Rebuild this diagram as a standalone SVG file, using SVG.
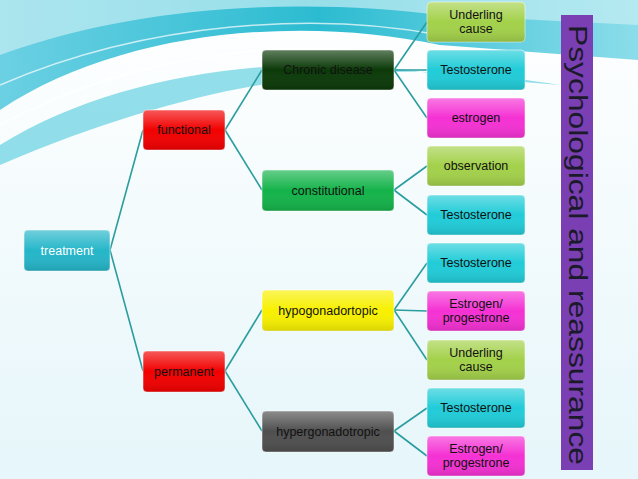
<svg xmlns="http://www.w3.org/2000/svg" width="638" height="479" viewBox="0 0 638 479">
<defs>
<linearGradient id="bg" x1="0" y1="0" x2="0" y2="1"><stop offset="0" stop-color="#ffffff"/><stop offset="1" stop-color="#e6f6fa"/></linearGradient>
<linearGradient id="sw" x1="0" y1="0" x2="1" y2="0"><stop offset="0" stop-color="#5ccbe0"/><stop offset="0.5" stop-color="#14b4cc"/><stop offset="1" stop-color="#7fd9e8"/></linearGradient>
<linearGradient id="gl" x1="0" y1="0" x2="0" y2="1"><stop offset="0" stop-color="#fff" stop-opacity="0.35"/><stop offset="0.5" stop-color="#fff" stop-opacity="0"/><stop offset="1" stop-color="#000" stop-opacity="0.12"/></linearGradient>
</defs>
<style>
.n rect.b{stroke:#ffffff;stroke-opacity:.5;stroke-width:1}
.n text{font-family:"Liberation Sans",Arial,sans-serif;font-size:12.5px;text-anchor:middle;fill:#111}
.c line{stroke:#2a9d9f;stroke-width:1.6}
</style>
<rect width="638" height="479" fill="url(#bg)"/>
<path d="M0 110 C120 30 300 15 440 45 L638 60 L638 0 L0 0 Z" fill="url(#sw)" opacity="0.9"/>
<path d="M0 145 C120 70 300 50 440 75 L560 85 C 420 62 250 58 0 165 Z" fill="#3cc4d8" opacity="0.55"/>
<path d="M0 55 C150 0 320 0 440 15 L638 25 L638 0 L0 0 Z" fill="#c6eef4" opacity="0.7"/>
<path d="M0 125 C140 50 300 35 430 60" fill="none" stroke="#fff" stroke-width="2" opacity="0.7"/>
<path d="M0 85 C150 20 320 12 440 35" fill="none" stroke="#fff" stroke-width="1.5" opacity="0.7"/>
<g class="c">
<line x1="110" y1="250" x2="143" y2="130"/><line x1="110" y1="250" x2="143" y2="371"/>
<line x1="225" y1="130" x2="262" y2="70"/><line x1="225" y1="130" x2="262" y2="190"/>
<line x1="225" y1="371" x2="262" y2="310"/><line x1="225" y1="371" x2="262" y2="431"/>
<line x1="394" y1="70" x2="427" y2="22"/><line x1="394" y1="70" x2="427" y2="70"/><line x1="394" y1="70" x2="427" y2="118"/>
<line x1="394" y1="190" x2="427" y2="166"/><line x1="394" y1="190" x2="427" y2="215"/>
<line x1="394" y1="310" x2="427" y2="263"/><line x1="394" y1="310" x2="427" y2="311"/><line x1="394" y1="310" x2="427" y2="360"/>
<line x1="394" y1="431" x2="427" y2="408"/><line x1="394" y1="431" x2="427" y2="456"/>
</g>
<g id="treatment" class="n"><rect class="b" x="24" y="230" width="86" height="41" rx="4" fill="#25b6c9"/><rect x="24" y="230" width="86" height="41" rx="4" fill="url(#gl)"/><text x="67" y="255" style="fill:#fff">treatment</text></g>
<g id="functional" class="n"><rect class="b" x="143" y="110" width="82" height="40" rx="4" fill="#f20000"/><rect x="143" y="110" width="82" height="40" rx="4" fill="url(#gl)"/><text x="184" y="134">functional</text></g>
<g id="permanent" class="n"><rect class="b" x="143" y="351" width="82" height="41" rx="4" fill="#f20000"/><rect x="143" y="351" width="82" height="41" rx="4" fill="url(#gl)"/><text x="184" y="376">permanent</text></g>
<g id="chronic" class="n"><rect class="b" x="262" y="50" width="132" height="40" rx="4" fill="#0b3a08"/><rect x="262" y="50" width="132" height="40" rx="4" fill="url(#gl)"/><text x="328" y="74">Chronic disease</text></g>
<g id="constitutional" class="n"><rect class="b" x="262" y="170" width="132" height="41" rx="4" fill="#14b34a"/><rect x="262" y="170" width="132" height="41" rx="4" fill="url(#gl)"/><text x="328" y="195">constitutional</text></g>
<g id="hypo" class="n"><rect class="b" x="262" y="290" width="132" height="41" rx="4" fill="#f7f000"/><rect x="262" y="290" width="132" height="41" rx="4" fill="url(#gl)"/><text x="328" y="315">hypogonadortopic</text></g>
<g id="hyper" class="n"><rect class="b" x="262" y="411" width="132" height="41" rx="4" fill="#4f4f4f"/><rect x="262" y="411" width="132" height="41" rx="4" fill="url(#gl)"/><text x="328" y="436">hypergonadotropic</text></g>
<g id="l1" class="n"><rect class="b" x="427" y="2" width="98" height="40" rx="4" fill="#a3d14a"/><rect x="427" y="2" width="98" height="40" rx="4" fill="url(#gl)"/><text x="476" y="19">Underling</text><text x="476" y="33">cause</text></g>
<g id="l2" class="n"><rect class="b" x="427" y="50" width="98" height="40" rx="4" fill="#20ccd8"/><rect x="427" y="50" width="98" height="40" rx="4" fill="url(#gl)"/><text x="476" y="74">Testosterone</text></g>
<g id="l3" class="n"><rect class="b" x="427" y="98" width="98" height="40" rx="4" fill="#f531d4"/><rect x="427" y="98" width="98" height="40" rx="4" fill="url(#gl)"/><text x="476" y="122">estrogen</text></g>
<g id="l4" class="n"><rect class="b" x="427" y="146" width="98" height="40" rx="4" fill="#a3d14a"/><rect x="427" y="146" width="98" height="40" rx="4" fill="url(#gl)"/><text x="476" y="170">observation</text></g>
<g id="l5" class="n"><rect class="b" x="427" y="195" width="98" height="40" rx="4" fill="#20ccd8"/><rect x="427" y="195" width="98" height="40" rx="4" fill="url(#gl)"/><text x="476" y="219">Testosterone</text></g>
<g id="l6" class="n"><rect class="b" x="427" y="243" width="98" height="40" rx="4" fill="#20ccd8"/><rect x="427" y="243" width="98" height="40" rx="4" fill="url(#gl)"/><text x="476" y="267">Testosterone</text></g>
<g id="l7" class="n"><rect class="b" x="427" y="291" width="98" height="40" rx="4" fill="#f531d4"/><rect x="427" y="291" width="98" height="40" rx="4" fill="url(#gl)"/><text x="476" y="308">Estrogen/</text><text x="476" y="322">progestrone</text></g>
<g id="l8" class="n"><rect class="b" x="427" y="340" width="98" height="40" rx="4" fill="#a3d14a"/><rect x="427" y="340" width="98" height="40" rx="4" fill="url(#gl)"/><text x="476" y="357">Underling</text><text x="476" y="371">cause</text></g>
<g id="l9" class="n"><rect class="b" x="427" y="388" width="98" height="40" rx="4" fill="#20ccd8"/><rect x="427" y="388" width="98" height="40" rx="4" fill="url(#gl)"/><text x="476" y="412">Testosterone</text></g>
<g id="l10" class="n"><rect class="b" x="427" y="436" width="98" height="40" rx="4" fill="#f531d4"/><rect x="427" y="436" width="98" height="40" rx="4" fill="url(#gl)"/><text x="476" y="453">Estrogen/</text><text x="476" y="467">progestrone</text></g>
<g id="psych"><rect x="561" y="15" width="32" height="455" fill="#7a3fb3"/><text transform="translate(569 245) rotate(90)" font-family="Liberation Sans,Arial,sans-serif" font-size="25" text-anchor="middle" fill="#1a1a2a" textLength="440" lengthAdjust="spacingAndGlyphs">Psychological and reassurance</text></g>
</svg>
